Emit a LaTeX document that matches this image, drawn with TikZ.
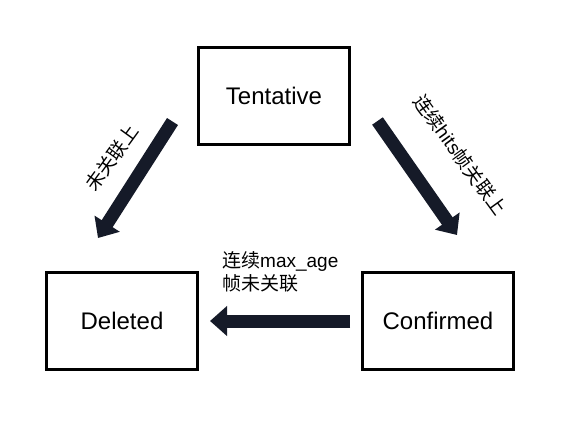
\documentclass[tikz,border=0pt]{standalone}
\usepackage{fontspec}
\setmainfont{Liberation Sans}
\newfontfamily\cjk{Noto Sans CJK SC}
\usetikzlibrary{arrows.meta}
\definecolor{arrowfill}{HTML}{151A28}
\begin{document}
\begin{tikzpicture}[x=1pt,y=-1pt,
  state/.style={draw=black,line width=3pt,minimum width=151pt,minimum height=97pt,font=\fontsize{24}{28}\selectfont},
  blockarrow/.style={draw=arrowfill,line width=13pt,-{Triangle[width=29pt,length=17pt]}},
  label/.style={font=\fontsize{19}{23}\selectfont}
]
  \useasboundingbox (0,0) rectangle (561,432);
  \node[state] (tentative) at (274,96) {Tentative};
  \node[state] (deleted) at (122,321) {Deleted};
  \node[state] (confirmed) at (438,321) {Confirmed};
  % arrow ends
  \coordinate (lt) at (172.5,121.5);
  \coordinate (lh) at (98,238);
  \coordinate (rt) at (377.5,121);
  \coordinate (rh) at (457,235);
  \coordinate (bt) at (350,321);
  \coordinate (bh) at (210,321);
  \draw[blockarrow] (lt) -- (lh);
  \draw[blockarrow] (rt) -- (rh);
  \draw[blockarrow] (bt) -- (bh);
  \node[label,rotate=54] (lost) at (112,158) {\cjk 未关联上};
  \node[label,rotate=-54] (hits) at (460,155) {{\cjk 连续}hits{\cjk 帧关联上}};
  \node[label,align=left,anchor=north west,inner sep=0pt] (maxage) at (222,251)
    {{\cjk 连续}max\_age\\{\cjk 帧未关联}};
\end{tikzpicture}
\end{document}
